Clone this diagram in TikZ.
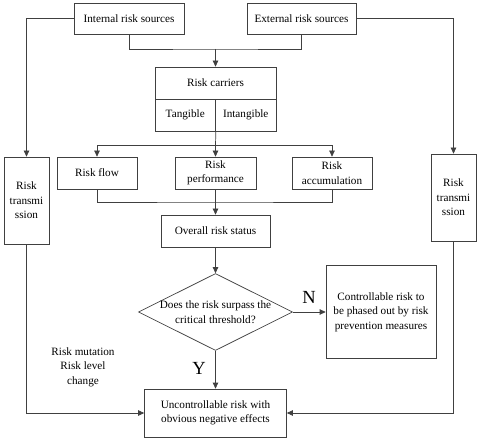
\documentclass[tikz,border=0pt]{standalone}
\usepackage{fontspec}
\setmainfont{Liberation Serif}
\usetikzlibrary{arrows.meta,shapes.geometric}
\begin{document}
\begin{tikzpicture}[x=1pt,y=-1pt,
  ln/.style={draw=black!75,line width=0.7pt},
  arr/.style={ln,-{Triangle[length=6pt,width=5.5pt]}},
  box/.style={ln,rectangle,inner sep=0pt,align=center,font=\fontsize{11.2}{14.5}\selectfont},
  txt/.style={inner sep=0pt,align=center,font=\fontsize{11.2}{14.5}\selectfont},
  big/.style={inner sep=0pt,font=\fontsize{18.5}{18.5}\selectfont}]
\useasboundingbox (0,0) rectangle (480,441);
\node[box,minimum width=110pt,minimum height=31pt] (int) at (129,18.5) {Internal risk sources};
\node[box,minimum width=109pt,minimum height=31pt] (ext) at (301.5,18.5) {External risk sources};
\node[box,minimum width=121pt,minimum height=32pt] (carr) at (215.5,83) {Risk carriers};
\node[box,minimum width=60.5pt,minimum height=32pt] (tang) at (185.25,115) {Tangible};
\node[box,minimum width=60.5pt,minimum height=32pt] (intang) at (245.75,115) {Intangible};
\node[box,minimum width=80pt,minimum height=32pt] (flow) at (97,173) {Risk flow};
\node[box,minimum width=81pt,minimum height=32pt] (perf) at (215.5,173) {Risk\\performance};
\node[box,minimum width=80pt,minimum height=32pt] (accum) at (332,173) {Risk\\accumulation};
\node[box,minimum width=109pt,minimum height=32pt] (overall) at (215.5,231) {Overall risk status};
\node[ln,diamond,minimum width=154pt,minimum height=77pt,inner sep=0pt] (dia) at (215.5,312) {};
\node[txt] (diat) at (215.5,312) {Does the risk surpass the\\critical threshold?};
\node[box,minimum width=110pt,minimum height=93pt] (ctrl) at (381,312) {Controllable risk to\\be phased out by risk\\prevention measures};
\node[box,minimum width=142pt,minimum height=48pt] (unc) at (215.5,413) {Uncontrollable risk with\\obvious negative effects};
\node[box,minimum width=45pt,minimum height=87pt] (rtl) at (26.5,200.5) {Risk\\transmi\\ssion};
\node[box,minimum width=45pt,minimum height=87pt] (rtr) at (453.5,197.5) {Risk\\transmi\\ssion};
\node[txt] (mut) at (83,367) {Risk mutation\\Risk level\\change};
\node[big] (nlab) at (309,297) {N};
\node[big] (ylab) at (199,368) {Y};
\coordinate (j1) at (215.5,49);
\coordinate (j2) at (215.5,145);
\coordinate (j3) at (215.5,202);
\draw[arr] (int.west) -| (rtl.north);
\draw[arr] (ext.east) -| (rtr.north);
\draw[ln] (int.south) |- (j1) -| (ext.south);
\draw[arr] (j1) -- (carr.north);
\draw[ln] (tang.south east) -- (j2);
\draw[arr] (j2) -| (flow.north);
\draw[arr] (j2) -| (accum.north);
\draw[arr] (j2) -- (perf.north);
\draw[ln] (perf.south) -- (j3);
\draw[ln] (flow.south) |- (j3) -| (accum.south);
\draw[arr] (j3) -- (overall.north);
\draw[arr] (overall.south) -- (dia.north);
\draw[arr] (dia.east) -- (ctrl.west);
\draw[arr] (dia.south) -- (unc.north);
\draw[arr] (rtl.south) |- (unc.west);
\draw[arr] (rtr.south) |- (unc.east);
\end{tikzpicture}
\end{document}
